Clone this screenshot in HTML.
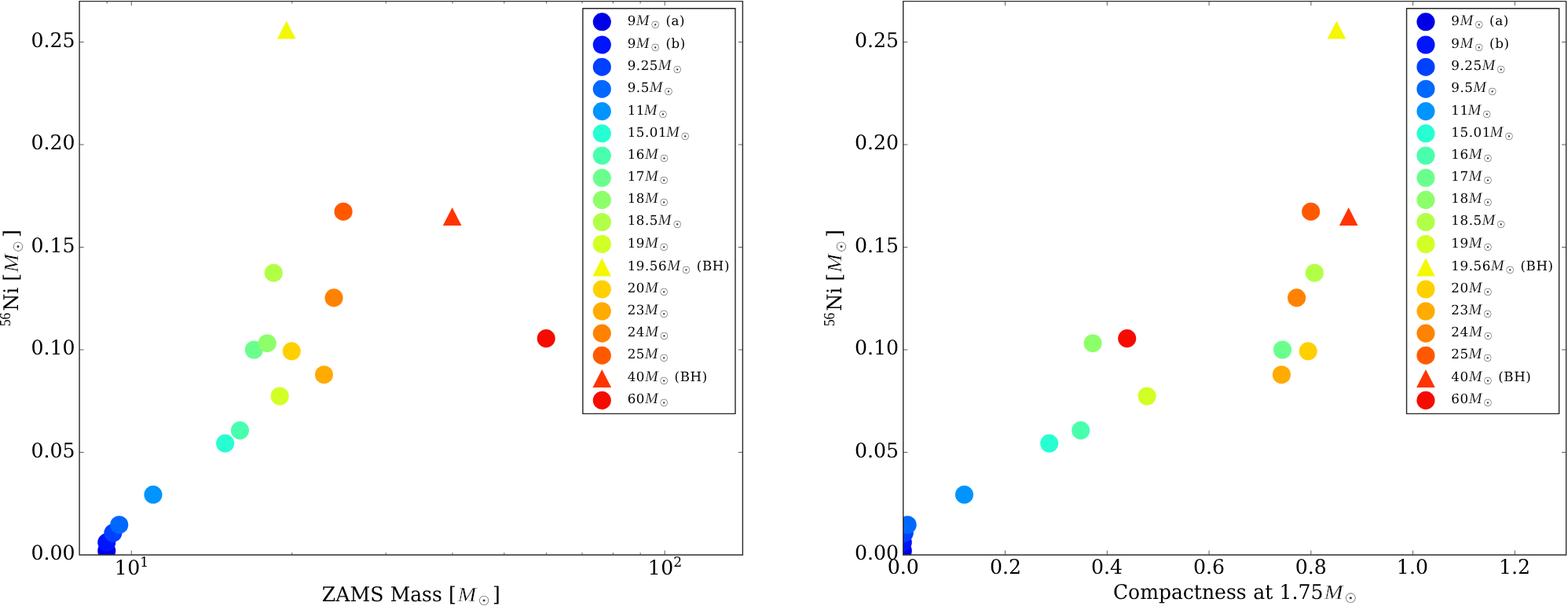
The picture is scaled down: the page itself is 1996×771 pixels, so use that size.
<!DOCTYPE html>
<html><head><meta charset="utf-8"><title>56Ni vs ZAMS mass and compactness</title>
<style>html,body{margin:0;padding:0;background:#fff}body{width:1996px;height:771px;overflow:hidden}svg{display:block}text{font-kerning:none;white-space:pre;text-rendering:geometricPrecision}</style>
</head><body>
<svg width="1996" height="771" viewBox="0 0 1996 771">
<rect width="1996" height="771" fill="#fff"/>
<clipPath id="clipL"><rect x="101.1" y="1.62" width="844.3" height="704.38"/></clipPath>
<g clip-path="url(#clipL)">
<circle cx="135.78" cy="700.7" r="11.55" fill="#0000e6"/>
<circle cx="135.78" cy="690.1" r="11.55" fill="#0014ff"/>
<circle cx="143.86" cy="678.1" r="11.55" fill="#0040ff"/>
<circle cx="151.73" cy="667.7" r="11.55" fill="#0068ff"/>
<circle cx="194.96" cy="629.3" r="11.55" fill="#0094ff"/>
<circle cx="286.61" cy="564.1" r="11.55" fill="#26ffd1"/>
<circle cx="305.45" cy="547.6" r="11.55" fill="#49ffad"/>
<circle cx="323.33" cy="445" r="11.55" fill="#6aff8d"/>
<circle cx="340.18" cy="436.7" r="11.55" fill="#8dff6a"/>
<circle cx="348.26" cy="347.2" r="11.55" fill="#b1ff46"/>
<circle cx="356.13" cy="504" r="11.55" fill="#d1ff26"/>
<path d="M364.69 26.5L352.84 49.6L376.54 49.6Z" fill="#f4f802"/>
<circle cx="371.25" cy="446.8" r="11.55" fill="#ffd000"/>
<circle cx="412.47" cy="476.7" r="11.55" fill="#ffab00"/>
<circle cx="425.02" cy="378.9" r="11.55" fill="#ff8200"/>
<circle cx="437.05" cy="269.2" r="11.55" fill="#ff5900"/>
<path d="M575.65 263.95L563.8 287.05L587.5 287.05Z" fill="#ff3400"/>
<circle cx="695.22" cy="430.6" r="11.55" fill="#f60b00"/>
</g>
<path d="M101.1 575.48h5.6M945.4 575.48h-5.6M101.1 444.99h5.6M945.4 444.99h-5.6M101.1 314.5h5.6M945.4 314.5h-5.6M101.1 184.01h5.6M945.4 184.01h-5.6M101.1 53.52h5.6M945.4 53.52h-5.6M167.29 706v-5.6M167.29 1.62v5.6M846.19 706v-5.6M846.19 1.62v5.6M136.23 706v-2.9M136.23 1.62v2.9M371.66 706v-2.9M371.66 1.62v2.9M491.21 706v-2.9M491.21 1.62v2.9M576.03 706v-2.9M576.03 1.62v2.9M641.82 706v-2.9M641.82 1.62v2.9M695.58 706v-2.9M695.58 1.62v2.9M741.03 706v-2.9M741.03 1.62v2.9M780.4 706v-2.9M780.4 1.62v2.9M815.13 706v-2.9M815.13 1.62v2.9" stroke="#2a2a2a" stroke-width="0.75" fill="none"/>
<path d="M101.1 1.62H945.4V706H101.1Z" fill="none" stroke="#303030" stroke-width="1.45" stroke-linejoin="miter"/>
<g font-family="'DejaVu Serif','Liberation Serif',serif" fill="#000">
<text transform="translate(39.42 712) scale(0.98 1)" font-size="25.7">0.00</text>
<text transform="translate(39.42 582) scale(0.98 1)" font-size="25.7">0.05</text>
<text transform="translate(39.42 451) scale(0.98 1)" font-size="25.7">0.10</text>
<text transform="translate(39.42 321) scale(0.98 1)" font-size="25.7">0.15</text>
<text transform="translate(39.42 190) scale(0.98 1)" font-size="25.7">0.20</text>
<text transform="translate(39.42 60) scale(0.98 1)" font-size="25.7">0.25</text>
<text transform="translate(145.82 731) scale(0.98 1)" font-size="25.7" letter-spacing="0.4">10</text>
<text transform="translate(178.2 721) scale(0.98 1)" font-size="17.48">1</text>
<text transform="translate(824.72 731) scale(0.98 1)" font-size="25.7" letter-spacing="0.4">10</text>
<text transform="translate(857.23 721) scale(0.98 1)" font-size="17.48">2</text>
<text transform="translate(409.77 765) scale(0.98 1)" font-size="25.7">ZAMS</text>
<text transform="translate(496.66 765) scale(0.972 1)" font-size="25.7">Mass</text>
<text transform="translate(570.89 765) scale(0.98 1)" font-size="25.7">[</text>
<text transform="translate(582.63 765) scale(1.08 1)" font-size="26" font-family="'Liberation Serif','DejaVu Serif',serif" font-style="italic" stroke="#fff" stroke-width="0.34">M</text>
<text transform="translate(608.75 770)" font-size="16.43" font-family="'DejaVu Sans','Liberation Sans',sans-serif" fill="#3a3a3a">☉</text>
<text transform="translate(627.04 765) scale(0.98 1)" font-size="25.7">]</text>
<g transform="translate(23 353.65) rotate(-90)">
<text transform="translate(-61.4 -10) scale(0.87 1)" font-size="19.8" font-family="'Liberation Serif','DejaVu Serif',serif">56</text>
<text transform="translate(-42.03 0) scale(0.98 1)" font-size="25.7">Ni</text>
<text transform="translate(-4.16 0) scale(0.98 1)" font-size="25.7">[</text>
<text transform="translate(7.23 0) scale(1.08 1)" font-size="26" font-family="'Liberation Serif','DejaVu Serif',serif" font-style="italic" stroke="#fff" stroke-width="0.34">M</text>
<text transform="translate(32.75 6)" font-size="16.43" font-family="'DejaVu Sans','Liberation Sans',sans-serif" fill="#3a3a3a">☉</text>
<text transform="translate(51.74 0) scale(0.98 1)" font-size="25.7">]</text>
</g>
</g>
<rect x="741.9" y="10.8" width="194.1" height="515.6" fill="#fff" stroke="#262626" stroke-width="1.4" stroke-linejoin="round"/>
<g font-family="'DejaVu Serif','Liberation Serif',serif" fill="#000">
<circle cx="766.3" cy="27.8" r="11.55" fill="#0000e6"/>
<text transform="translate(798.7 32)" font-size="16.67" letter-spacing="0.55">9</text>
<text transform="translate(809.82 32) scale(1.03 1)" font-size="19.6" font-family="'Liberation Serif','DejaVu Serif',serif" font-style="italic" stroke="#fff" stroke-width="0.25">M</text>
<text transform="translate(828.41 36)" font-size="12.73" font-family="'DejaVu Sans','Liberation Sans',sans-serif" fill="#3a3a3a">☉</text>
<text transform="translate(847.44 32)" font-size="16.67" letter-spacing="0.6">(a)</text>
<circle cx="766.3" cy="57" r="11.55" fill="#0014ff"/>
<text transform="translate(798.7 61)" font-size="16.67" letter-spacing="0.55">9</text>
<text transform="translate(809.82 61) scale(1.03 1)" font-size="19.6" font-family="'Liberation Serif','DejaVu Serif',serif" font-style="italic" stroke="#fff" stroke-width="0.25">M</text>
<text transform="translate(828.41 65)" font-size="12.73" font-family="'DejaVu Sans','Liberation Sans',sans-serif" fill="#3a3a3a">☉</text>
<text transform="translate(847.44 61)" font-size="16.67" letter-spacing="0.6">(b)</text>
<circle cx="766.3" cy="85.2" r="11.55" fill="#0040ff"/>
<text transform="translate(798.7 89)" font-size="16.67" letter-spacing="0.55">9.25</text>
<text transform="translate(837.82 89) scale(1.03 1)" font-size="19.6" font-family="'Liberation Serif','DejaVu Serif',serif" font-style="italic" stroke="#fff" stroke-width="0.25">M</text>
<text transform="translate(856.4 93)" font-size="12.73" font-family="'DejaVu Sans','Liberation Sans',sans-serif" fill="#3a3a3a">☉</text>
<circle cx="766.3" cy="113.2" r="11.55" fill="#0068ff"/>
<text transform="translate(798.7 117)" font-size="16.67" letter-spacing="0.55">9.5</text>
<text transform="translate(826.66 117) scale(1.03 1)" font-size="19.6" font-family="'Liberation Serif','DejaVu Serif',serif" font-style="italic" stroke="#fff" stroke-width="0.25">M</text>
<text transform="translate(845.25 121)" font-size="12.73" font-family="'DejaVu Sans','Liberation Sans',sans-serif" fill="#3a3a3a">☉</text>
<circle cx="766.3" cy="141.6" r="11.55" fill="#0094ff"/>
<text transform="translate(798.7 146)" font-size="16.67" letter-spacing="0.55">11</text>
<text transform="translate(819.73 146) scale(1.03 1)" font-size="19.6" font-family="'Liberation Serif','DejaVu Serif',serif" font-style="italic" stroke="#fff" stroke-width="0.25">M</text>
<text transform="translate(838.32 150)" font-size="12.73" font-family="'DejaVu Sans','Liberation Sans',sans-serif" fill="#3a3a3a">☉</text>
<circle cx="766.3" cy="169.8" r="11.55" fill="#26ffd1"/>
<text transform="translate(798.7 174)" font-size="16.67" letter-spacing="0.55">15.01</text>
<text transform="translate(847.89 174) scale(1.03 1)" font-size="19.6" font-family="'Liberation Serif','DejaVu Serif',serif" font-style="italic" stroke="#fff" stroke-width="0.25">M</text>
<text transform="translate(866.48 178)" font-size="12.73" font-family="'DejaVu Sans','Liberation Sans',sans-serif" fill="#3a3a3a">☉</text>
<circle cx="766.3" cy="198" r="11.55" fill="#49ffad"/>
<text transform="translate(798.7 202)" font-size="16.67" letter-spacing="0.55">16</text>
<text transform="translate(821.05 202) scale(1.03 1)" font-size="19.6" font-family="'Liberation Serif','DejaVu Serif',serif" font-style="italic" stroke="#fff" stroke-width="0.25">M</text>
<text transform="translate(839.64 206)" font-size="12.73" font-family="'DejaVu Sans','Liberation Sans',sans-serif" fill="#3a3a3a">☉</text>
<circle cx="766.3" cy="226.3" r="11.55" fill="#6aff8d"/>
<text transform="translate(798.7 230)" font-size="16.67" letter-spacing="0.55">17</text>
<text transform="translate(820.89 230) scale(1.03 1)" font-size="19.6" font-family="'Liberation Serif','DejaVu Serif',serif" font-style="italic" stroke="#fff" stroke-width="0.25">M</text>
<text transform="translate(839.48 234)" font-size="12.73" font-family="'DejaVu Sans','Liberation Sans',sans-serif" fill="#3a3a3a">☉</text>
<circle cx="766.3" cy="254.4" r="11.55" fill="#8dff6a"/>
<text transform="translate(798.7 258)" font-size="16.67" letter-spacing="0.55">18</text>
<text transform="translate(820.98 258) scale(1.03 1)" font-size="19.6" font-family="'Liberation Serif','DejaVu Serif',serif" font-style="italic" stroke="#fff" stroke-width="0.25">M</text>
<text transform="translate(839.56 262)" font-size="12.73" font-family="'DejaVu Sans','Liberation Sans',sans-serif" fill="#3a3a3a">☉</text>
<circle cx="766.3" cy="282.5" r="11.55" fill="#b1ff46"/>
<text transform="translate(798.7 286)" font-size="16.67" letter-spacing="0.55">18.5</text>
<text transform="translate(837.82 286) scale(1.03 1)" font-size="19.6" font-family="'Liberation Serif','DejaVu Serif',serif" font-style="italic" stroke="#fff" stroke-width="0.25">M</text>
<text transform="translate(856.4 290)" font-size="12.73" font-family="'DejaVu Sans','Liberation Sans',sans-serif" fill="#3a3a3a">☉</text>
<circle cx="766.3" cy="310.5" r="11.55" fill="#d1ff26"/>
<text transform="translate(798.7 315)" font-size="16.67" letter-spacing="0.55">19</text>
<text transform="translate(820.98 315) scale(1.03 1)" font-size="19.6" font-family="'Liberation Serif','DejaVu Serif',serif" font-style="italic" stroke="#fff" stroke-width="0.25">M</text>
<text transform="translate(839.56 319)" font-size="12.73" font-family="'DejaVu Sans','Liberation Sans',sans-serif" fill="#3a3a3a">☉</text>
<path d="M766.3 328.35L754.45 351.45L778.15 351.45Z" fill="#f4f802"/>
<text transform="translate(798.7 344)" font-size="16.67" letter-spacing="0.55">19.56</text>
<text transform="translate(849.21 344) scale(1.03 1)" font-size="19.6" font-family="'Liberation Serif','DejaVu Serif',serif" font-style="italic" stroke="#fff" stroke-width="0.25">M</text>
<text transform="translate(867.8 348)" font-size="12.73" font-family="'DejaVu Sans','Liberation Sans',sans-serif" fill="#3a3a3a">☉</text>
<text transform="translate(886.83 344)" font-size="16.67" letter-spacing="0.6">(BH)</text>
<circle cx="766.3" cy="368" r="11.55" fill="#ffd000"/>
<text transform="translate(798.7 372)" font-size="16.67" letter-spacing="0.55">20</text>
<text transform="translate(820.99 372) scale(1.03 1)" font-size="19.6" font-family="'Liberation Serif','DejaVu Serif',serif" font-style="italic" stroke="#fff" stroke-width="0.25">M</text>
<text transform="translate(839.58 376)" font-size="12.73" font-family="'DejaVu Sans','Liberation Sans',sans-serif" fill="#3a3a3a">☉</text>
<circle cx="766.3" cy="396" r="11.55" fill="#ffab00"/>
<text transform="translate(798.7 400)" font-size="16.67" letter-spacing="0.55">23</text>
<text transform="translate(820.86 400) scale(1.03 1)" font-size="19.6" font-family="'Liberation Serif','DejaVu Serif',serif" font-style="italic" stroke="#fff" stroke-width="0.25">M</text>
<text transform="translate(839.45 404)" font-size="12.73" font-family="'DejaVu Sans','Liberation Sans',sans-serif" fill="#3a3a3a">☉</text>
<circle cx="766.3" cy="424.1" r="11.55" fill="#ff8200"/>
<text transform="translate(798.7 428)" font-size="16.67" letter-spacing="0.55">24</text>
<text transform="translate(821.26 428) scale(1.03 1)" font-size="19.6" font-family="'Liberation Serif','DejaVu Serif',serif" font-style="italic" stroke="#fff" stroke-width="0.25">M</text>
<text transform="translate(839.85 432)" font-size="12.73" font-family="'DejaVu Sans','Liberation Sans',sans-serif" fill="#3a3a3a">☉</text>
<circle cx="766.3" cy="452.2" r="11.55" fill="#ff5900"/>
<text transform="translate(798.7 456)" font-size="16.67" letter-spacing="0.55">25</text>
<text transform="translate(820.81 456) scale(1.03 1)" font-size="19.6" font-family="'Liberation Serif','DejaVu Serif',serif" font-style="italic" stroke="#fff" stroke-width="0.25">M</text>
<text transform="translate(839.4 460)" font-size="12.73" font-family="'DejaVu Sans','Liberation Sans',sans-serif" fill="#3a3a3a">☉</text>
<path d="M766.3 469.95L754.45 493.05L778.15 493.05Z" fill="#ff3400"/>
<text transform="translate(798.7 485)" font-size="16.67" letter-spacing="0.55">40</text>
<text transform="translate(820.99 485) scale(1.03 1)" font-size="19.6" font-family="'Liberation Serif','DejaVu Serif',serif" font-style="italic" stroke="#fff" stroke-width="0.25">M</text>
<text transform="translate(839.58 489)" font-size="12.73" font-family="'DejaVu Sans','Liberation Sans',sans-serif" fill="#3a3a3a">☉</text>
<text transform="translate(858.62 485)" font-size="16.67" letter-spacing="0.6">(BH)</text>
<circle cx="766.3" cy="509.35" r="11.55" fill="#f60b00"/>
<text transform="translate(798.7 513)" font-size="16.67" letter-spacing="0.55">60</text>
<text transform="translate(820.99 513) scale(1.03 1)" font-size="19.6" font-family="'Liberation Serif','DejaVu Serif',serif" font-style="italic" stroke="#fff" stroke-width="0.25">M</text>
<text transform="translate(839.58 517)" font-size="12.73" font-family="'DejaVu Sans','Liberation Sans',sans-serif" fill="#3a3a3a">☉</text>
</g>
<clipPath id="clipR"><rect x="1149.75" y="1.62" width="843.91" height="704.38"/></clipPath>
<g clip-path="url(#clipR)">
<circle cx="1149.3" cy="700.7" r="11.55" fill="#0000e6"/>
<circle cx="1149.3" cy="690.1" r="11.55" fill="#0014ff"/>
<circle cx="1151.3" cy="678.1" r="11.55" fill="#0040ff"/>
<circle cx="1155.15" cy="667.7" r="11.55" fill="#0068ff"/>
<circle cx="1227.5" cy="629.3" r="11.55" fill="#0094ff"/>
<circle cx="1335.7" cy="564.1" r="11.55" fill="#26ffd1"/>
<circle cx="1375.75" cy="547.6" r="11.55" fill="#49ffad"/>
<circle cx="1632.5" cy="445" r="11.55" fill="#6aff8d"/>
<circle cx="1391.1" cy="436.7" r="11.55" fill="#8dff6a"/>
<circle cx="1673.3" cy="347.2" r="11.55" fill="#b1ff46"/>
<circle cx="1460.1" cy="504" r="11.55" fill="#d1ff26"/>
<path d="M1701.4 26.5L1689.55 49.6L1713.25 49.6Z" fill="#f4f802"/>
<circle cx="1665.2" cy="446.8" r="11.55" fill="#ffd000"/>
<circle cx="1631.4" cy="476.7" r="11.55" fill="#ffab00"/>
<circle cx="1650.6" cy="378.9" r="11.55" fill="#ff8200"/>
<circle cx="1668.7" cy="269.2" r="11.55" fill="#ff5900"/>
<path d="M1716.7 263.95L1704.85 287.05L1728.55 287.05Z" fill="#ff3400"/>
<circle cx="1434.7" cy="430.6" r="11.55" fill="#f60b00"/>
</g>
<path d="M1149.75 575.48h5.6M1993.66 575.48h-5.6M1149.75 444.99h5.6M1993.66 444.99h-5.6M1149.75 314.5h5.6M1993.66 314.5h-5.6M1149.75 184.01h5.6M1993.66 184.01h-5.6M1149.75 53.52h5.6M1993.66 53.52h-5.6M1279.56 706v-5.6M1279.56 1.62v5.6M1409.32 706v-5.6M1409.32 1.62v5.6M1539.08 706v-5.6M1539.08 1.62v5.6M1668.84 706v-5.6M1668.84 1.62v5.6M1798.6 706v-5.6M1798.6 1.62v5.6M1928.36 706v-5.6M1928.36 1.62v5.6" stroke="#2a2a2a" stroke-width="0.75" fill="none"/>
<path d="M1149.75 1.62H1993.66V706H1149.75Z" fill="none" stroke="#303030" stroke-width="1.45" stroke-linejoin="miter"/>
<g font-family="'DejaVu Serif','Liberation Serif',serif" fill="#000">
<text transform="translate(1088.07 712) scale(0.98 1)" font-size="25.7">0.00</text>
<text transform="translate(1088.07 582) scale(0.98 1)" font-size="25.7">0.05</text>
<text transform="translate(1088.07 451) scale(0.98 1)" font-size="25.7">0.10</text>
<text transform="translate(1088.07 321) scale(0.98 1)" font-size="25.7">0.15</text>
<text transform="translate(1088.07 190) scale(0.98 1)" font-size="25.7">0.20</text>
<text transform="translate(1088.07 60) scale(0.98 1)" font-size="25.7">0.25</text>
<text transform="translate(1129.78 730) scale(0.98 1)" font-size="25.7">0.0</text>
<text transform="translate(1259.94 730) scale(0.98 1)" font-size="25.7">0.2</text>
<text transform="translate(1389.1 730) scale(0.98 1)" font-size="25.7">0.4</text>
<text transform="translate(1519.02 730) scale(0.98 1)" font-size="25.7">0.6</text>
<text transform="translate(1648.83 730) scale(0.98 1)" font-size="25.7">0.8</text>
<text transform="translate(1777.87 730) scale(0.98 1)" font-size="25.7">1.0</text>
<text transform="translate(1908.03 730) scale(0.98 1)" font-size="25.7">1.2</text>
<text transform="translate(1416.89 762) scale(0.975 1)" font-size="25.7">Compactness</text>
<text transform="translate(1595.15 762) scale(0.98 1)" font-size="25.7">at</text>
<text transform="translate(1628.43 762) scale(0.98 1)" font-size="25.7">1.75</text>
<text transform="translate(1685.64 762) scale(1.1 1)" font-size="26" font-family="'Liberation Serif','DejaVu Serif',serif" font-style="italic" stroke="#fff" stroke-width="0.34">M</text>
<text transform="translate(1711.76 767)" font-size="16.98" font-family="'DejaVu Sans','Liberation Sans',sans-serif" fill="#3a3a3a">☉</text>
<g transform="translate(1071 353.65) rotate(-90)">
<text transform="translate(-61.4 -9) scale(0.87 1)" font-size="19.8" font-family="'Liberation Serif','DejaVu Serif',serif">56</text>
<text transform="translate(-42.03 0) scale(0.98 1)" font-size="25.7">Ni</text>
<text transform="translate(-4.16 0) scale(0.98 1)" font-size="25.7">[</text>
<text transform="translate(7.23 0) scale(1.08 1)" font-size="26" font-family="'Liberation Serif','DejaVu Serif',serif" font-style="italic" stroke="#fff" stroke-width="0.34">M</text>
<text transform="translate(32.75 6)" font-size="16.43" font-family="'DejaVu Sans','Liberation Sans',sans-serif" fill="#3a3a3a">☉</text>
<text transform="translate(51.74 0) scale(0.98 1)" font-size="25.7">]</text>
</g>
</g>
<rect x="1790.55" y="10.8" width="194.1" height="515.6" fill="#fff" stroke="#262626" stroke-width="1.4" stroke-linejoin="round"/>
<g font-family="'DejaVu Serif','Liberation Serif',serif" fill="#000">
<circle cx="1814.95" cy="27.8" r="11.55" fill="#0000e6"/>
<text transform="translate(1847.35 32)" font-size="16.67" letter-spacing="0.55">9</text>
<text transform="translate(1858.47 32) scale(1.03 1)" font-size="19.6" font-family="'Liberation Serif','DejaVu Serif',serif" font-style="italic" stroke="#fff" stroke-width="0.25">M</text>
<text transform="translate(1877.06 36)" font-size="12.73" font-family="'DejaVu Sans','Liberation Sans',sans-serif" fill="#3a3a3a">☉</text>
<text transform="translate(1896.09 32)" font-size="16.67" letter-spacing="0.6">(a)</text>
<circle cx="1814.95" cy="57" r="11.55" fill="#0014ff"/>
<text transform="translate(1847.35 61)" font-size="16.67" letter-spacing="0.55">9</text>
<text transform="translate(1858.47 61) scale(1.03 1)" font-size="19.6" font-family="'Liberation Serif','DejaVu Serif',serif" font-style="italic" stroke="#fff" stroke-width="0.25">M</text>
<text transform="translate(1877.06 65)" font-size="12.73" font-family="'DejaVu Sans','Liberation Sans',sans-serif" fill="#3a3a3a">☉</text>
<text transform="translate(1896.09 61)" font-size="16.67" letter-spacing="0.6">(b)</text>
<circle cx="1814.95" cy="85.2" r="11.55" fill="#0040ff"/>
<text transform="translate(1847.35 89)" font-size="16.67" letter-spacing="0.55">9.25</text>
<text transform="translate(1886.47 89) scale(1.03 1)" font-size="19.6" font-family="'Liberation Serif','DejaVu Serif',serif" font-style="italic" stroke="#fff" stroke-width="0.25">M</text>
<text transform="translate(1905.05 93)" font-size="12.73" font-family="'DejaVu Sans','Liberation Sans',sans-serif" fill="#3a3a3a">☉</text>
<circle cx="1814.95" cy="113.2" r="11.55" fill="#0068ff"/>
<text transform="translate(1847.35 117)" font-size="16.67" letter-spacing="0.55">9.5</text>
<text transform="translate(1875.31 117) scale(1.03 1)" font-size="19.6" font-family="'Liberation Serif','DejaVu Serif',serif" font-style="italic" stroke="#fff" stroke-width="0.25">M</text>
<text transform="translate(1893.9 121)" font-size="12.73" font-family="'DejaVu Sans','Liberation Sans',sans-serif" fill="#3a3a3a">☉</text>
<circle cx="1814.95" cy="141.6" r="11.55" fill="#0094ff"/>
<text transform="translate(1847.35 146)" font-size="16.67" letter-spacing="0.55">11</text>
<text transform="translate(1868.38 146) scale(1.03 1)" font-size="19.6" font-family="'Liberation Serif','DejaVu Serif',serif" font-style="italic" stroke="#fff" stroke-width="0.25">M</text>
<text transform="translate(1886.97 150)" font-size="12.73" font-family="'DejaVu Sans','Liberation Sans',sans-serif" fill="#3a3a3a">☉</text>
<circle cx="1814.95" cy="169.8" r="11.55" fill="#26ffd1"/>
<text transform="translate(1847.35 174)" font-size="16.67" letter-spacing="0.55">15.01</text>
<text transform="translate(1896.54 174) scale(1.03 1)" font-size="19.6" font-family="'Liberation Serif','DejaVu Serif',serif" font-style="italic" stroke="#fff" stroke-width="0.25">M</text>
<text transform="translate(1915.13 178)" font-size="12.73" font-family="'DejaVu Sans','Liberation Sans',sans-serif" fill="#3a3a3a">☉</text>
<circle cx="1814.95" cy="198" r="11.55" fill="#49ffad"/>
<text transform="translate(1847.35 202)" font-size="16.67" letter-spacing="0.55">16</text>
<text transform="translate(1869.7 202) scale(1.03 1)" font-size="19.6" font-family="'Liberation Serif','DejaVu Serif',serif" font-style="italic" stroke="#fff" stroke-width="0.25">M</text>
<text transform="translate(1888.29 206)" font-size="12.73" font-family="'DejaVu Sans','Liberation Sans',sans-serif" fill="#3a3a3a">☉</text>
<circle cx="1814.95" cy="226.3" r="11.55" fill="#6aff8d"/>
<text transform="translate(1847.35 230)" font-size="16.67" letter-spacing="0.55">17</text>
<text transform="translate(1869.54 230) scale(1.03 1)" font-size="19.6" font-family="'Liberation Serif','DejaVu Serif',serif" font-style="italic" stroke="#fff" stroke-width="0.25">M</text>
<text transform="translate(1888.13 234)" font-size="12.73" font-family="'DejaVu Sans','Liberation Sans',sans-serif" fill="#3a3a3a">☉</text>
<circle cx="1814.95" cy="254.4" r="11.55" fill="#8dff6a"/>
<text transform="translate(1847.35 258)" font-size="16.67" letter-spacing="0.55">18</text>
<text transform="translate(1869.63 258) scale(1.03 1)" font-size="19.6" font-family="'Liberation Serif','DejaVu Serif',serif" font-style="italic" stroke="#fff" stroke-width="0.25">M</text>
<text transform="translate(1888.21 262)" font-size="12.73" font-family="'DejaVu Sans','Liberation Sans',sans-serif" fill="#3a3a3a">☉</text>
<circle cx="1814.95" cy="282.5" r="11.55" fill="#b1ff46"/>
<text transform="translate(1847.35 286)" font-size="16.67" letter-spacing="0.55">18.5</text>
<text transform="translate(1886.47 286) scale(1.03 1)" font-size="19.6" font-family="'Liberation Serif','DejaVu Serif',serif" font-style="italic" stroke="#fff" stroke-width="0.25">M</text>
<text transform="translate(1905.05 290)" font-size="12.73" font-family="'DejaVu Sans','Liberation Sans',sans-serif" fill="#3a3a3a">☉</text>
<circle cx="1814.95" cy="310.5" r="11.55" fill="#d1ff26"/>
<text transform="translate(1847.35 315)" font-size="16.67" letter-spacing="0.55">19</text>
<text transform="translate(1869.63 315) scale(1.03 1)" font-size="19.6" font-family="'Liberation Serif','DejaVu Serif',serif" font-style="italic" stroke="#fff" stroke-width="0.25">M</text>
<text transform="translate(1888.21 319)" font-size="12.73" font-family="'DejaVu Sans','Liberation Sans',sans-serif" fill="#3a3a3a">☉</text>
<path d="M1814.95 328.35L1803.1 351.45L1826.8 351.45Z" fill="#f4f802"/>
<text transform="translate(1847.35 344)" font-size="16.67" letter-spacing="0.55">19.56</text>
<text transform="translate(1897.86 344) scale(1.03 1)" font-size="19.6" font-family="'Liberation Serif','DejaVu Serif',serif" font-style="italic" stroke="#fff" stroke-width="0.25">M</text>
<text transform="translate(1916.45 348)" font-size="12.73" font-family="'DejaVu Sans','Liberation Sans',sans-serif" fill="#3a3a3a">☉</text>
<text transform="translate(1935.48 344)" font-size="16.67" letter-spacing="0.6">(BH)</text>
<circle cx="1814.95" cy="368" r="11.55" fill="#ffd000"/>
<text transform="translate(1847.35 372)" font-size="16.67" letter-spacing="0.55">20</text>
<text transform="translate(1869.64 372) scale(1.03 1)" font-size="19.6" font-family="'Liberation Serif','DejaVu Serif',serif" font-style="italic" stroke="#fff" stroke-width="0.25">M</text>
<text transform="translate(1888.23 376)" font-size="12.73" font-family="'DejaVu Sans','Liberation Sans',sans-serif" fill="#3a3a3a">☉</text>
<circle cx="1814.95" cy="396" r="11.55" fill="#ffab00"/>
<text transform="translate(1847.35 400)" font-size="16.67" letter-spacing="0.55">23</text>
<text transform="translate(1869.51 400) scale(1.03 1)" font-size="19.6" font-family="'Liberation Serif','DejaVu Serif',serif" font-style="italic" stroke="#fff" stroke-width="0.25">M</text>
<text transform="translate(1888.1 404)" font-size="12.73" font-family="'DejaVu Sans','Liberation Sans',sans-serif" fill="#3a3a3a">☉</text>
<circle cx="1814.95" cy="424.1" r="11.55" fill="#ff8200"/>
<text transform="translate(1847.35 428)" font-size="16.67" letter-spacing="0.55">24</text>
<text transform="translate(1869.91 428) scale(1.03 1)" font-size="19.6" font-family="'Liberation Serif','DejaVu Serif',serif" font-style="italic" stroke="#fff" stroke-width="0.25">M</text>
<text transform="translate(1888.5 432)" font-size="12.73" font-family="'DejaVu Sans','Liberation Sans',sans-serif" fill="#3a3a3a">☉</text>
<circle cx="1814.95" cy="452.2" r="11.55" fill="#ff5900"/>
<text transform="translate(1847.35 456)" font-size="16.67" letter-spacing="0.55">25</text>
<text transform="translate(1869.46 456) scale(1.03 1)" font-size="19.6" font-family="'Liberation Serif','DejaVu Serif',serif" font-style="italic" stroke="#fff" stroke-width="0.25">M</text>
<text transform="translate(1888.05 460)" font-size="12.73" font-family="'DejaVu Sans','Liberation Sans',sans-serif" fill="#3a3a3a">☉</text>
<path d="M1814.95 469.95L1803.1 493.05L1826.8 493.05Z" fill="#ff3400"/>
<text transform="translate(1847.35 485)" font-size="16.67" letter-spacing="0.55">40</text>
<text transform="translate(1869.64 485) scale(1.03 1)" font-size="19.6" font-family="'Liberation Serif','DejaVu Serif',serif" font-style="italic" stroke="#fff" stroke-width="0.25">M</text>
<text transform="translate(1888.23 489)" font-size="12.73" font-family="'DejaVu Sans','Liberation Sans',sans-serif" fill="#3a3a3a">☉</text>
<text transform="translate(1907.27 485)" font-size="16.67" letter-spacing="0.6">(BH)</text>
<circle cx="1814.95" cy="509.35" r="11.55" fill="#f60b00"/>
<text transform="translate(1847.35 513)" font-size="16.67" letter-spacing="0.55">60</text>
<text transform="translate(1869.64 513) scale(1.03 1)" font-size="19.6" font-family="'Liberation Serif','DejaVu Serif',serif" font-style="italic" stroke="#fff" stroke-width="0.25">M</text>
<text transform="translate(1888.23 517)" font-size="12.73" font-family="'DejaVu Sans','Liberation Sans',sans-serif" fill="#3a3a3a">☉</text>
</g>
</svg>
</body></html>
